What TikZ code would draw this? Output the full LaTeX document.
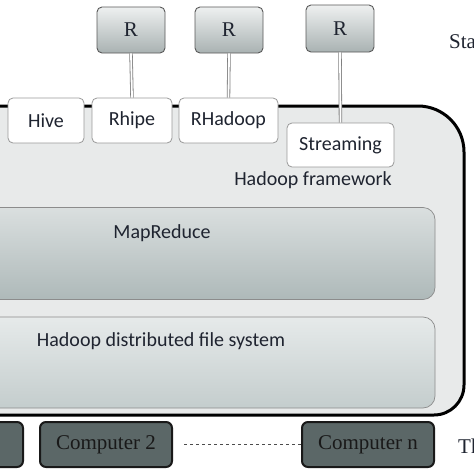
\documentclass[tikz,border=0pt]{standalone}
\usepackage{fontspec}
\setmainfont{Carlito}
\newfontfamily\serifR{Liberation Serif}
\definecolor{txt}{HTML}{1F2430}
\definecolor{frame}{HTML}{E8EAEA}
\definecolor{compfill}{HTML}{5B6767}
\definecolor{mrtop}{HTML}{DADFDF}
\definecolor{mrbot}{HTML}{AEB9B9}
\definecolor{hdtop}{HTML}{E6EAEA}
\definecolor{hdbot}{HTML}{C4CDCD}
\definecolor{rtop}{HTML}{EEF0F0}
\definecolor{rbot}{HTML}{A9B2B2}
\tikzset{
  rbox/.style={draw=black!65, line width=0.9pt, rounded corners=5pt, top color=rtop, bottom color=rbot,
    minimum width=68pt, minimum height=46pt, inner sep=0pt, font=\serifR\fontsize{21}{22}\selectfont, text=txt},
  toolbox/.style={draw=black!40, line width=0.8pt, rounded corners=5pt, fill=white,
    minimum height=45pt, inner sep=0pt, font=\fontsize{20}{22}\selectfont, text=txt},
  layerbox/.style={draw=black!45, line width=0.7pt, rounded corners=12pt, inner sep=0pt},
  comp/.style={draw=black!90, line width=2pt, rounded corners=6pt, fill=compfill,
    minimum height=45pt, inner sep=0pt, font=\serifR\fontsize{21}{22}\selectfont, text=black!90},
  conn/.style={draw=black!50, double=white, double distance=1.8pt, line width=0.8pt},
  lbl/.style={font=\fontsize{20}{22}\selectfont, text=txt, inner sep=0pt},
  side/.style={anchor=west, inner sep=0pt, font=\serifR\fontsize{21}{22}\selectfont, text=txt},
}
\begin{document}
\begin{tikzpicture}[x=1pt,y=-1pt]
\useasboundingbox (0,0) rectangle (474,474);
\clip (0,0) rectangle (474,474);
\fill[white] (0,0) rectangle (474,474);
% framework box
\draw[line width=3pt, fill=frame] (-30,106) -- (418,106) arc[start angle=90, end angle=0, radius=46pt]
  -- (464,385) arc[start angle=0, end angle=-90, radius=30pt] -- (-30,415) -- cycle;
\node[lbl] (fw) at (313,180) {Hadoop framework};
% layers
\node[layerbox, top color=mrtop, bottom color=mrbot, minimum width=460pt, minimum height=92pt] (mr) at (205,253.5) {};
\node[lbl] (mrt) at (162,233) {MapReduce};
\node[layerbox, top color=hdtop, bottom color=hdbot, minimum width=460pt, minimum height=91pt] (hdfs) at (205,362.5) {};
\node[lbl] (hdfst) at (161,341) {Hadoop distributed file system};
% tools
\node[toolbox, minimum width=76pt] (hive) at (46,120.5) {Hive};
\node[toolbox, minimum width=80pt] (rhipe) at (132,120.5) {Rhipe};
\node[toolbox, minimum width=99pt] (rhadoop) at (228.5,120.5) {RHadoop};
\node[toolbox, minimum width=107pt, minimum height=44pt] (stream) at (340.5,145) {Streaming};
% R boxes
\node[rbox] (r1) at (131,30) {R};
\node[rbox] (r2) at (229,30) {R};
\node[rbox, minimum height=47pt] (r3) at (340,28.5) {R};
\draw[conn] (r1.south) -- (rhipe.north);
\draw[conn] (r2.south) -- (rhadoop.north);
\draw[conn] (r3.south) -- (stream.north);
% computers
\node[comp, minimum width=146pt] (c1) at (-50,444.5) {Computer 1};
\node[comp, minimum width=132pt] (c2) at (106,444.5) {Computer 2};
\node[comp, minimum width=132pt] (cn) at (368,444.5) {Computer n};
\draw[dashed, black!70, line width=0.6pt] (c2.east) ++(11,0) coordinate (d1) -- (cn.west);
% side labels
\node[side] (sta) at (449,42) {Sta};
\node[side] (th) at (458,446) {Th};
\end{tikzpicture}
\end{document}
